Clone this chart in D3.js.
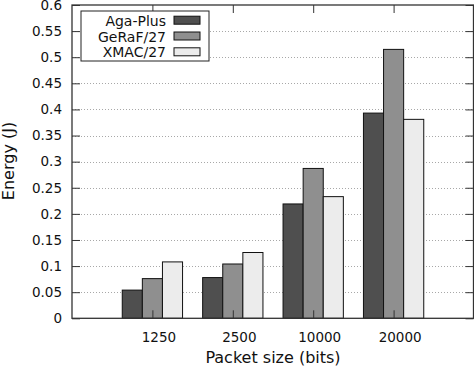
<!DOCTYPE html>
<html>
<head>
<meta charset="utf-8">
<script src="https://cdn.jsdelivr.net/npm/d3@7"></script>
<style>
  body { margin: 0; background: #fff; }
  svg { display: block; font-family: "DejaVu Sans", sans-serif; }
</style>
</head>
<body>
<div id="chart"></div>
<script>
// data
var packetSizes = ["1250", "2500", "10000", "20000"];
var seriesNames = ["Aga-Plus", "GeRaF/27", "XMAC/27"];
var agaPlus = [0.054, 0.078, 0.219, 0.393];
var geraf27 = [0.076, 0.104, 0.287, 0.515];
var xmac27 = [0.108, 0.126, 0.233, 0.381];
var yTicks = [0, 0.05, 0.1, 0.15, 0.2, 0.25, 0.3, 0.35, 0.4, 0.45, 0.5, 0.55, 0.6];

var series = [agaPlus, geraf27, xmac27];
var fills = ["#4f4f4f", "#8f8f8f", "#ececec"];

var width = 474, height = 367;
var margin = {top: 5, right: 0, bottom: 48.7, left: 72};

var svg = d3.select("#chart").append("svg")
    .attr("width", width)
    .attr("height", height);

// categories sit at 0..3, range padded by one unit each side
var x = d3.scaleLinear().domain([-1, packetSizes.length]).range([margin.left, width - margin.right]);
var y = d3.scaleLinear().domain([0, 0.6]).range([height - margin.bottom, margin.top]);
var barW = 0.25;

// dotted grid
svg.append("g").selectAll("line")
    .data(yTicks.filter(function(d) { return d > 0 && d < 0.6; }))
    .enter().append("line")
    .attr("x1", x.range()[0]).attr("x2", x.range()[1])
    .attr("y1", function(d) { return Math.round(y(d)) + 0.5; })
    .attr("y2", function(d) { return Math.round(y(d)) + 0.5; })
    .attr("stroke", "#a8a8a8")
    .attr("stroke-width", 1)
    .attr("stroke-dasharray", "1,2");

// bars
series.forEach(function(vals, s) {
    svg.append("g").selectAll("rect")
        .data(vals)
        .enter().append("rect")
        .attr("x", function(d, i) { return x(i + (s - 1.5) * barW); })
        .attr("y", function(d) { return y(d); })
        .attr("width", x(barW) - x(0))
        .attr("height", function(d) { return y(0) - y(d); })
        .attr("fill", fills[s])
        .attr("stroke", "#111")
        .attr("stroke-width", 1);
});

// axes (inward ticks, mirrored)
var yAxis = d3.axisLeft(y).tickValues(yTicks).tickSizeInner(-8).tickSizeOuter(0).tickPadding(10)
    .tickFormat(function(d) { return d3.format("")(+d.toFixed(2)); });
var yAxisR = d3.axisRight(y).tickValues(yTicks).tickSizeInner(-8).tickSizeOuter(0).tickFormat("");
var xAxis = d3.axisBottom(x).tickValues(d3.range(packetSizes.length)).tickSizeInner(-8).tickSizeOuter(0)
    .tickPadding(14).tickFormat(function(d) { return packetSizes[d]; });
var xAxisT = d3.axisTop(x).tickValues(d3.range(packetSizes.length)).tickSizeInner(-8).tickSizeOuter(0).tickFormat("");

function styleAxis(g) {
    g.select(".domain").remove();
    g.selectAll("line").attr("stroke", "#333");
    g.selectAll("text").attr("font-size", 13.5).attr("fill", "#111").attr("font-family", "DejaVu Sans");
}

svg.append("g").attr("transform", "translate(" + margin.left + ",0)").call(yAxis).call(styleAxis);
svg.append("g").attr("transform", "translate(" + (width - margin.right - 0.5) + ",0)").call(yAxisR).call(styleAxis);
svg.append("g").attr("transform", "translate(0," + y(0) + ")").call(xAxis).call(styleAxis)
    .selectAll("text").attr("dx", 6);
svg.append("g").attr("transform", "translate(0," + margin.top + ")").call(xAxisT).call(styleAxis);

// border
svg.append("rect")
    .attr("x", margin.left).attr("y", margin.top)
    .attr("width", width - margin.right - margin.left - 0.5)
    .attr("height", y(0) - margin.top)
    .attr("fill", "none")
    .attr("stroke", "#333")
    .attr("stroke-width", 1.3);

// axis labels
svg.append("text")
    .attr("x", (x.range()[0] + x.range()[1]) / 2)
    .attr("y", 362.5)
    .attr("text-anchor", "middle")
    .attr("font-size", 16)
    .attr("fill", "#111")
    .text("Packet size (bits)");

svg.append("text")
    .attr("transform", "translate(13.5,161) rotate(-90)")
    .attr("text-anchor", "middle")
    .attr("font-size", 16)
    .attr("fill", "#111")
    .text("Energy (J)");

// legend
var legend = svg.append("g");
legend.append("rect")
    .attr("x", 81).attr("y", 11).attr("width", 128).attr("height", 50)
    .attr("fill", "#fff").attr("stroke", "#222").attr("stroke-width", 1);
seriesNames.forEach(function(name, i) {
    var base = 25.7 + i * 15.8;
    legend.append("text")
        .attr("x", 166).attr("y", base)
        .attr("text-anchor", "end")
        .attr("font-size", 14)
        .attr("fill", "#111")
        .text(name);
    legend.append("rect")
        .attr("x", 174).attr("y", base - 9.5).attr("width", 26).attr("height", 8)
        .attr("fill", fills[i]).attr("stroke", "#111").attr("stroke-width", 1);
});
</script>
</body>
</html>
